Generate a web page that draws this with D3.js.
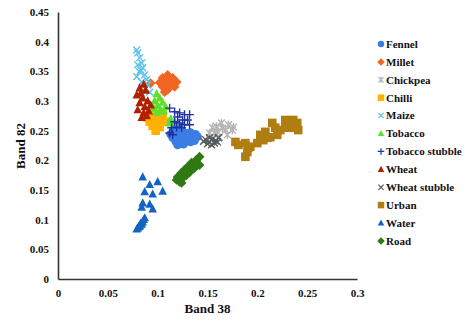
<!DOCTYPE html>
<html><head><meta charset="utf-8">
<script src="https://cdn.jsdelivr.net/npm/d3@7"></script>
<style>body{margin:0;background:#fff}svg{display:block}text{font-family:"Liberation Serif","Times New Roman",serif;font-weight:bold;fill:#111}</style>
</head><body><svg id="c" width="474" height="322"></svg>
<script>
const xTicks = [0, 0.05, 0.1, 0.15, 0.2, 0.25, 0.3];
const yTicks = [0, 0.05, 0.1, 0.15, 0.2, 0.25, 0.3, 0.35, 0.4, 0.45];
const categories = ["Fennel","Millet","Chickpea","Chilli","Maize","Tobacco","Tobacco stubble","Wheat","Wheat stubble","Urban","Water","Road"];
const colors = ["#3b7de3","#f26522","#b4b4b4","#ffb000","#5cc3ee","#5ee02c","#1c2fa3","#b02000","#50595b","#b07d10","#1463c4","#2f7a10"];
const shapes = ["circle","diamond","asterisk","square","times","triangle","plus","triangle","times","square","triangle","diamond"];

const fennel = [[0.118,0.245],[0.123,0.248],[0.128,0.246],[0.133,0.247],[0.138,0.244],[0.115,0.238],[0.12,0.24],[0.125,0.238],[0.13,0.24],[0.135,0.238],[0.14,0.24],[0.118,0.232],[0.123,0.23],[0.128,0.233],[0.133,0.231],[0.12,0.226],[0.126,0.227],[0.116,0.252],[0.122,0.255],[0.137,0.233],[0.113,0.244]];
const millet = [[0.11,0.344],[0.115,0.339],[0.105,0.339],[0.119,0.332],[0.102,0.331],[0.109,0.331],[0.114,0.327],[0.105,0.324],[0.11,0.319],[0.117,0.324],[0.112,0.336],[0.107,0.315],[0.093,0.33]];
const chickpea = [[0.164,0.263],[0.171,0.26],[0.175,0.251],[0.168,0.251],[0.16,0.248],[0.157,0.246],[0.152,0.246],[0.17,0.243],[0.162,0.239],[0.155,0.255],[0.176,0.256],[0.165,0.254],[0.159,0.257]];
const chilli = [[0.095,0.28],[0.1,0.277],[0.09,0.272],[0.097,0.27],[0.104,0.272],[0.092,0.265],[0.1,0.263],[0.107,0.265],[0.095,0.258],[0.102,0.256],[0.098,0.25],[0.093,0.276],[0.105,0.28]];
const maize = [[0.079,0.386],[0.08,0.381],[0.082,0.373],[0.084,0.364],[0.08,0.361],[0.085,0.356],[0.082,0.349],[0.079,0.341],[0.087,0.344],[0.089,0.336],[0.084,0.332],[0.09,0.327],[0.092,0.315],[0.088,0.321],[0.083,0.352]];
const tobacco = [[0.099,0.312],[0.102,0.305],[0.097,0.3],[0.105,0.298],[0.1,0.292],[0.108,0.29],[0.096,0.288],[0.103,0.285],[0.099,0.28],[0.106,0.283],[0.113,0.27],[0.117,0.265],[0.112,0.263]];
const tobaccoStubble = [[0.112,0.288],[0.117,0.282],[0.122,0.28],[0.127,0.277],[0.132,0.277],[0.12,0.273],[0.125,0.268],[0.13,0.268],[0.117,0.265],[0.122,0.263],[0.127,0.26],[0.132,0.26],[0.114,0.255],[0.119,0.256],[0.124,0.255],[0.112,0.246],[0.115,0.243]];
const wheat = [[0.082,0.322],[0.088,0.318],[0.079,0.31],[0.085,0.305],[0.09,0.3],[0.082,0.297],[0.087,0.29],[0.093,0.293],[0.08,0.285],[0.086,0.28],[0.091,0.283],[0.084,0.272],[0.089,0.275],[0.086,0.328],[0.083,0.313]];
const wheatStubble = [[0.148,0.235],[0.152,0.231],[0.155,0.236],[0.158,0.233],[0.15,0.228],[0.154,0.226],[0.161,0.238],[0.146,0.232],[0.157,0.229],[0.152,0.238],[0.16,0.231]];
const urban = [[0.178,0.231],[0.181,0.226],[0.188,0.229],[0.191,0.221],[0.2,0.229],[0.19,0.214],[0.188,0.206],[0.193,0.223],[0.203,0.243],[0.208,0.248],[0.21,0.238],[0.215,0.263],[0.218,0.255],[0.22,0.243],[0.223,0.251],[0.228,0.268],[0.228,0.255],[0.233,0.255],[0.236,0.268],[0.24,0.263],[0.241,0.251],[0.213,0.239],[0.206,0.234]];
const water = [[0.085,0.172],[0.092,0.159],[0.1,0.164],[0.087,0.147],[0.095,0.143],[0.105,0.148],[0.085,0.128],[0.092,0.126],[0.095,0.118],[0.084,0.121],[0.087,0.103],[0.085,0.096],[0.082,0.091],[0.08,0.086],[0.079,0.084],[0.081,0.088],[0.083,0.094],[0.086,0.1],[0.084,0.092],[0.082,0.089]];
const road = [[0.142,0.206],[0.139,0.201],[0.134,0.196],[0.142,0.192],[0.13,0.189],[0.137,0.187],[0.127,0.184],[0.132,0.18],[0.124,0.179],[0.129,0.175],[0.12,0.172],[0.125,0.17],[0.119,0.167],[0.122,0.164],[0.124,0.162],[0.128,0.178],[0.121,0.169],[0.133,0.183]];
const seriesData = [fennel, millet, chickpea, chilli, maize, tobacco, tobaccoStubble, wheat, wheatStubble, urban, water, road];

const svg = d3.select("#c");
const x = d3.scaleLinear().domain([0, 0.3]).range([58, 357]);
const y = d3.scaleLinear().domain([0, 0.45]).range([279, 12]);

function fmt(d){ return d === 0 ? "0" : String(+d.toFixed(2)); }

const xa = svg.append("g").attr("transform","translate(0,279)")
  .call(d3.axisBottom(x).tickValues(xTicks).tickSize(0).tickPadding(10).tickFormat(fmt));
const ya = svg.append("g").attr("transform","translate(58,0)")
  .call(d3.axisLeft(y).tickValues(yTicks).tickSize(0).tickPadding(9).tickFormat(fmt));
[xa, ya].forEach(a => {
  a.select(".domain").attr("stroke","#333").attr("stroke-width",1.6);
  a.selectAll("text").style("font-size","11px").style("font-family","Liberation Serif").style("font-weight","bold").attr("fill","#111");
});

svg.append("text").attr("x", x(0.15)).attr("y", 313).attr("text-anchor","middle").style("font-size","13px").text("Band 38");
svg.append("text").attr("transform","translate(25,146) rotate(-90)").attr("text-anchor","middle").style("font-size","13px").text("Band 82");

function markerPath(shape, s){
  switch(shape){
    case "circle": return d3.symbol(d3.symbolCircle, s*s*0.785)();
    case "square": return d3.symbol(d3.symbolSquare, s*s)();
    case "diamond": { const h=s/2*1.15; return `M0,${-h}L${h},0L0,${h}L${-h},0Z`; }
    case "triangle": { const h=s/2; return `M0,${-h*1.1}L${h},${h*0.8}L${-h},${h*0.8}Z`; }
    case "plus": { const h=s/2; return `M${-h},0L${h},0M0,${-h}L0,${h}`; }
    case "times": { const h=s/2*0.8; return `M${-h},${-h}L${h},${h}M${-h},${h}L${h},${-h}`; }
    case "asterisk": { const h=s/2*0.8, g=s/2; return `M${-h},${-h}L${h},${h}M${-h},${h}L${h},${-h}M0,${-g}L0,${g}`; }
  }
}
const stroked = s => s === "plus" || s === "times" || s === "asterisk";

const plot = svg.append("g");
categories.forEach((c, i) => {
  const sh = shapes[i];
  plot.append("g").selectAll("path").data(seriesData[i]).join("path")
    .attr("transform", d => `translate(${x(d[0])},${y(d[1])})`)
    .attr("d", markerPath(sh, 8.6))
    .attr("fill", stroked(sh) ? "none" : colors[i])
    .attr("stroke", stroked(sh) ? colors[i] : "none")
    .attr("stroke-width", 1.4);
});

const lg = svg.append("g");
categories.forEach((c, i) => {
  const yy = 44 + i * 17.9;
  const sh = shapes[i];
  lg.append("path").attr("transform",`translate(381,${yy})`).attr("d", markerPath(sh, 6.5))
    .attr("fill", stroked(sh) ? "none" : colors[i])
    .attr("stroke", stroked(sh) ? colors[i] : "none").attr("stroke-width",1.2);
  lg.append("text").attr("x", 386).attr("y", yy).attr("dy","0.35em").style("font-size","11px").text(c);
});
</script></body></html>
